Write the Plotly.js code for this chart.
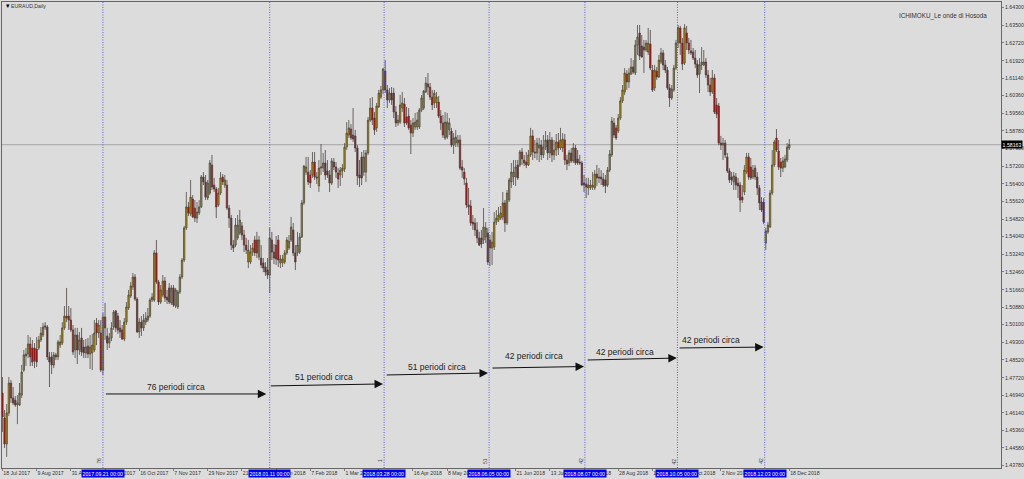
<!DOCTYPE html>
<html>
<head>
<meta charset="utf-8">
<script src="https://cdn.plot.ly/plotly-3.0.1.min.js"></script>
<style>html,body{margin:0;padding:0;background:#dcdcdc;overflow:hidden}</style>
</head>
<body>
<div id="chart" style="width:1024px;height:479px"></div>
<script>
/* -------------------- Data -------------------- */

const opens = [
1.4703,1.4591,1.4475,1.4614,1.4748,1.4681,1.4672,1.4650,1.4650,1.4694,
1.4806,1.4869,1.4878,1.4923,1.4905,1.4905,1.4900,1.4905,1.4941,1.4963,
1.5004,1.4999,1.4865,1.4865,1.4829,1.4874,1.4865,1.4918,1.4927,1.4995,
1.5048,1.5048,1.5030,1.4986,1.4896,1.4963,1.4896,1.4950,1.4909,1.4883,
1.4914,1.4878,1.4883,1.4896,1.5017,1.4972,1.4972,1.4806,1.5044,1.4959,
1.4927,1.4950,1.4999,1.5071,1.5048,1.4995,1.4986,1.4945,1.5021,1.5084,
1.5138,1.5178,1.5223,1.5124,1.4977,1.5021,1.4995,1.5021,1.5030,1.5048,
1.5120,1.5120,1.5331,1.5201,1.5111,1.5142,1.5205,1.5133,1.5174,1.5107,
1.5174,1.5093,1.5089,1.5156,1.5223,1.5299,1.5443,1.5537,1.5505,1.5572,
1.5532,1.5487,1.5510,1.5537,1.5671,1.5649,1.5577,1.5599,1.5725,1.5635,
1.5617,1.5546,1.5599,1.5671,1.5635,1.5635,1.5532,1.5487,1.5366,1.5366,
1.5398,1.5420,1.5452,1.5411,1.5366,1.5290,1.5290,1.5335,1.5389,1.5389,
1.5313,1.5308,1.5286,1.5268,1.5254,1.5232,1.5389,1.5335,1.5366,1.5389,
1.5286,1.5286,1.5290,1.5331,1.5353,1.5389,1.5434,1.5331,1.5331,1.5335,
1.5402,1.5555,1.5693,1.5693,1.5680,1.5680,1.5738,1.5671,1.5631,1.5711,
1.5711,1.5734,1.5698,1.5680,1.5644,1.5738,1.5716,1.5689,1.5680,1.5698,
1.5707,1.5805,1.5859,1.5886,1.5859,1.5855,1.5801,1.5680,1.5761,1.5693,
1.5693,1.5779,1.5926,1.5980,1.5935,1.5891,1.5985,1.6029,1.6061,1.6146,
1.6061,1.6016,1.6047,1.6047,1.5962,1.5913,1.5917,1.5980,1.5998,1.5940,
1.5944,1.5904,1.5868,1.5895,1.5895,1.5895,1.5971,1.5980,1.6052,1.6088,
1.6074,1.6029,1.6003,1.6003,1.6007,1.5944,1.5913,1.5846,1.5850,1.5882,
1.5877,1.5814,1.5823,1.5823,1.5837,1.5716,1.5693,1.5644,1.5546,1.5541,
1.5469,1.5465,1.5434,1.5398,1.5398,1.5389,1.5402,1.5420,1.5389,1.5353,
1.5357,1.5469,1.5478,1.5487,1.5492,1.5555,1.5465,1.5568,1.5649,1.5671,
1.5671,1.5725,1.5725,1.5783,1.5747,1.5738,1.5725,1.5770,1.5855,1.5783,
1.5779,1.5801,1.5814,1.5770,1.5805,1.5837,1.5779,1.5837,1.5770,1.5792,
1.5828,1.5801,1.5801,1.5837,1.5747,1.5734,1.5779,1.5743,1.5801,1.5752,
1.5738,1.5734,1.5644,1.5640,1.5622,1.5622,1.5626,1.5622,1.5684,1.5671,
1.5671,1.5662,1.5658,1.5635,1.5702,1.5770,1.5913,1.5891,1.5877,1.5935,
1.6012,1.6052,1.6132,1.6097,1.6132,1.6164,1.6137,1.6262,1.6316,1.6258,
1.6253,1.6240,1.6231,1.6267,1.6150,1.6070,1.6146,1.6119,1.6186,1.6227,
1.6173,1.6150,1.6070,1.6025,1.6061,1.6159,1.6271,1.6339,1.6271,1.6182,
1.6316,1.6271,1.6236,1.6231,1.6204,1.6177,1.6132,1.6173,1.6173,1.6186,
1.6128,1.6083,1.6052,1.6115,1.5994,1.5989,1.5823,1.5814,1.5823,1.5761,
1.5698,1.5671,1.5649,1.5671,1.5644,1.5635,1.5581,1.5604,1.5693,1.5761,
1.5716,1.5671,1.5711,1.5671,1.5622,1.5559,1.5559,1.5375,1.5425,1.5447,
1.5599,1.5725,1.5846,1.5788,1.5738,1.5711,1.5716,1.5747,1.5801
];
const highs = [
1.4775,1.4627,1.4654,1.4775,1.4762,1.4730,1.4690,1.4694,1.4748,1.4829,
1.4896,1.4905,1.4963,1.4954,1.4941,1.4927,1.4954,1.4959,1.4999,1.5017,
1.5021,1.5008,1.4887,1.4887,1.4887,1.4883,1.4941,1.4963,1.5021,1.5093,
1.5174,1.5093,1.5084,1.5008,1.4995,1.4995,1.4977,1.4995,1.4941,1.4945,
1.4950,1.4963,1.4968,1.5030,1.5039,1.5030,1.5030,1.5062,1.5107,1.4995,
1.4972,1.5021,1.5075,1.5075,1.5062,1.5030,1.5008,1.5039,1.5111,1.5165,
1.5201,1.5241,1.5236,1.5133,1.5039,1.5048,1.5057,1.5066,1.5084,1.5129,
1.5151,1.5344,1.5389,1.5210,1.5187,1.5232,1.5223,1.5165,1.5196,1.5187,
1.5187,1.5174,1.5165,1.5236,1.5308,1.5452,1.5604,1.5559,1.5658,1.5590,
1.5568,1.5559,1.5568,1.5680,1.5693,1.5680,1.5658,1.5747,1.5770,1.5667,
1.5626,1.5622,1.5693,1.5684,1.5680,1.5658,1.5546,1.5501,1.5389,1.5487,
1.5501,1.5523,1.5469,1.5434,1.5398,1.5389,1.5366,1.5375,1.5407,1.5425,
1.5407,1.5366,1.5308,1.5290,1.5308,1.5443,1.5425,1.5371,1.5407,1.5411,
1.5322,1.5322,1.5344,1.5402,1.5411,1.5492,1.5465,1.5366,1.5425,1.5420,
1.5568,1.5725,1.5761,1.5761,1.5702,1.5783,1.5783,1.5693,1.5747,1.5819,
1.5779,1.5792,1.5747,1.5702,1.5756,1.5756,1.5738,1.5711,1.5716,1.5729,
1.5823,1.5917,1.5926,1.5908,1.5980,1.5882,1.5814,1.5747,1.5783,1.5792,
1.5792,1.5940,1.6025,1.6029,1.5962,1.6003,1.6061,1.6079,1.6159,1.6195,
1.6083,1.6070,1.6074,1.6070,1.5989,1.5949,1.6038,1.6052,1.6025,1.5985,
1.5980,1.5926,1.5935,1.5958,1.5962,1.5980,1.6038,1.6061,1.6119,1.6137,
1.6092,1.6061,1.6061,1.6052,1.6034,1.5971,1.5949,1.5962,1.5958,1.5935,
1.5891,1.5868,1.5882,1.5859,1.5859,1.5747,1.5711,1.5667,1.5622,1.5568,
1.5501,1.5487,1.5469,1.5425,1.5434,1.5532,1.5469,1.5443,1.5411,1.5425,
1.5514,1.5523,1.5537,1.5541,1.5604,1.5568,1.5613,1.5667,1.5734,1.5747,
1.5747,1.5747,1.5792,1.5801,1.5770,1.5783,1.5792,1.5891,1.5882,1.5837,
1.5846,1.5846,1.5837,1.5859,1.5877,1.5859,1.5873,1.5850,1.5837,1.5864,
1.5868,1.5891,1.5868,1.5864,1.5770,1.5792,1.5801,1.5823,1.5814,1.5792,
1.5770,1.5743,1.5680,1.5667,1.5667,1.5658,1.5693,1.5702,1.5725,1.5711,
1.5702,1.5689,1.5680,1.5716,1.5792,1.5940,1.5935,1.5904,1.5953,1.6029,
1.6083,1.6159,1.6150,1.6159,1.6204,1.6195,1.6285,1.6352,1.6352,1.6307,
1.6285,1.6285,1.6339,1.6330,1.6173,1.6173,1.6164,1.6218,1.6249,1.6240,
1.6195,1.6164,1.6088,1.6083,1.6173,1.6285,1.6352,1.6348,1.6294,1.6356,
1.6348,1.6294,1.6285,1.6249,1.6240,1.6195,1.6204,1.6253,1.6240,1.6204,
1.6150,1.6115,1.6150,1.6132,1.6025,1.6003,1.5855,1.5846,1.5837,1.5779,
1.5711,1.5693,1.5693,1.5689,1.5667,1.5649,1.5635,1.5725,1.5779,1.5779,
1.5756,1.5725,1.5725,1.5693,1.5635,1.5581,1.5577,1.5443,1.5469,1.5613,
1.5792,1.5837,1.5886,1.5837,1.5756,1.5761,1.5770,1.5823,1.5841
];
const lows = [
1.4529,1.4457,1.4417,1.4600,1.4659,1.4650,1.4641,1.4564,1.4645,1.4681,
1.4797,1.4824,1.4860,1.4824,1.4824,1.4815,1.4820,1.4896,1.4932,1.4954,
1.4986,1.4851,1.4730,1.4788,1.4815,1.4851,1.4851,1.4905,1.4918,1.4986,
1.5021,1.4986,1.4977,1.4874,1.4860,1.4833,1.4874,1.4869,1.4860,1.4860,
1.4860,1.4811,1.4806,1.4887,1.4918,1.4950,1.4797,1.4784,1.4941,1.4896,
1.4905,1.4936,1.4986,1.4977,1.4968,1.4950,1.4941,1.4936,1.5008,1.5075,
1.5129,1.5165,1.5116,1.4972,1.4950,1.4959,1.4981,1.5008,1.5021,1.5039,
1.5111,1.5111,1.5192,1.5098,1.5102,1.5133,1.5111,1.5102,1.5102,1.5098,
1.5089,1.5084,1.5080,1.5147,1.5214,1.5290,1.5434,1.5496,1.5496,1.5487,
1.5469,1.5465,1.5501,1.5532,1.5635,1.5568,1.5568,1.5590,1.5613,1.5604,
1.5487,1.5537,1.5590,1.5635,1.5622,1.5523,1.5443,1.5344,1.5335,1.5357,
1.5389,1.5411,1.5389,1.5335,1.5326,1.5263,1.5281,1.5317,1.5317,1.5308,
1.5299,1.5263,1.5245,1.5228,1.5214,1.5151,1.5299,1.5281,1.5277,1.5268,
1.5263,1.5268,1.5281,1.5322,1.5344,1.5380,1.5317,1.5254,1.5317,1.5326,
1.5398,1.5546,1.5680,1.5635,1.5622,1.5667,1.5658,1.5640,1.5604,1.5680,
1.5693,1.5658,1.5667,1.5604,1.5635,1.5702,1.5667,1.5622,1.5631,1.5667,
1.5693,1.5792,1.5846,1.5837,1.5828,1.5783,1.5635,1.5626,1.5635,1.5676,
1.5649,1.5770,1.5917,1.5904,1.5859,1.5873,1.5980,1.6020,1.6043,1.6047,
1.5980,1.6003,1.5994,1.5935,1.5895,1.5900,1.5908,1.5962,1.5895,1.5904,
1.5882,1.5774,1.5850,1.5882,1.5882,1.5886,1.5962,1.5971,1.6047,1.6038,
1.6016,1.5971,1.5980,1.5980,1.5935,1.5882,1.5846,1.5837,1.5841,1.5859,
1.5805,1.5774,1.5805,1.5805,1.5702,1.5667,1.5635,1.5532,1.5501,1.5452,
1.5434,1.5407,1.5375,1.5362,1.5353,1.5371,1.5375,1.5277,1.5272,1.5277,
1.5344,1.5456,1.5469,1.5478,1.5478,1.5425,1.5456,1.5559,1.5622,1.5635,
1.5631,1.5658,1.5716,1.5725,1.5720,1.5711,1.5720,1.5761,1.5747,1.5756,
1.5747,1.5738,1.5747,1.5756,1.5792,1.5747,1.5756,1.5738,1.5747,1.5765,
1.5770,1.5792,1.5783,1.5725,1.5702,1.5720,1.5734,1.5734,1.5725,1.5725,
1.5725,1.5631,1.5604,1.5577,1.5590,1.5613,1.5613,1.5613,1.5631,1.5644,
1.5635,1.5626,1.5599,1.5626,1.5693,1.5761,1.5846,1.5837,1.5868,1.5926,
1.6003,1.6038,1.6061,1.6070,1.6128,1.6132,1.6128,1.6218,1.6195,1.6204,
1.6137,1.6231,1.6218,1.6150,1.6052,1.6056,1.6106,1.6115,1.6177,1.6150,
1.6137,1.6061,1.5985,1.6016,1.6052,1.6150,1.6249,1.6218,1.6150,1.6173,
1.6240,1.6222,1.6218,1.6195,1.6159,1.6115,1.6047,1.6150,1.6168,1.6115,
1.6052,1.6034,1.6043,1.5953,1.5935,1.5814,1.5792,1.5747,1.5756,1.5689,
1.5644,1.5635,1.5613,1.5613,1.5577,1.5514,1.5555,1.5590,1.5684,1.5658,
1.5658,1.5662,1.5658,1.5590,1.5523,1.5514,1.5460,1.5344,1.5416,1.5443,
1.5590,1.5716,1.5783,1.5702,1.5671,1.5693,1.5711,1.5738,1.5792
];
const closes = [
1.4596,1.4475,1.4614,1.4748,1.4681,1.4659,1.4650,1.4659,1.4703,1.4797,
1.4874,1.4878,1.4923,1.4865,1.4842,1.4847,1.4842,1.4941,1.4972,1.4999,
1.4999,1.4865,1.4842,1.4829,1.4874,1.4865,1.4932,1.4932,1.4995,1.5048,
1.5039,1.5030,1.4986,1.4887,1.4963,1.4896,1.4941,1.4887,1.4883,1.4909,
1.4878,1.4909,1.4918,1.4972,1.4972,1.5008,1.4806,1.5044,1.4995,1.4927,
1.4950,1.4995,1.5066,1.4995,1.4986,1.4977,1.4945,1.5021,1.5089,1.5142,
1.5183,1.5223,1.5124,1.4977,1.5021,1.4995,1.5030,1.5039,1.5048,1.5120,
1.5133,1.5331,1.5201,1.5111,1.5165,1.5205,1.5129,1.5120,1.5111,1.5174,
1.5098,1.5165,1.5156,1.5223,1.5299,1.5443,1.5537,1.5510,1.5581,1.5492,
1.5487,1.5514,1.5537,1.5671,1.5649,1.5581,1.5644,1.5734,1.5626,1.5617,
1.5537,1.5599,1.5667,1.5649,1.5658,1.5532,1.5487,1.5366,1.5353,1.5456,
1.5456,1.5478,1.5411,1.5366,1.5344,1.5344,1.5335,1.5353,1.5331,1.5331,
1.5389,1.5277,1.5263,1.5245,1.5232,1.5398,1.5335,1.5308,1.5304,1.5299,
1.5304,1.5304,1.5331,1.5389,1.5384,1.5447,1.5331,1.5290,1.5366,1.5402,
1.5555,1.5720,1.5716,1.5649,1.5644,1.5738,1.5671,1.5667,1.5711,1.5716,
1.5734,1.5680,1.5680,1.5644,1.5743,1.5716,1.5693,1.5662,1.5702,1.5711,
1.5805,1.5868,1.5891,1.5846,1.5841,1.5801,1.5676,1.5667,1.5667,1.5761,
1.5779,1.5926,1.5980,1.5926,1.5882,1.5989,1.6047,1.6061,1.6155,1.6061,
1.6016,1.6047,1.6016,1.5962,1.5913,1.5926,1.5994,1.6003,1.5913,1.5913,
1.5891,1.5868,1.5913,1.5917,1.5926,1.5971,1.6025,1.6056,1.6092,1.6074,
1.6029,1.5994,1.6047,1.6029,1.5944,1.5913,1.5859,1.5917,1.5917,1.5913,
1.5814,1.5846,1.5850,1.5837,1.5711,1.5702,1.5662,1.5546,1.5537,1.5465,
1.5460,1.5434,1.5398,1.5366,1.5371,1.5447,1.5443,1.5290,1.5353,1.5380,
1.5469,1.5487,1.5501,1.5510,1.5555,1.5465,1.5599,1.5658,1.5693,1.5693,
1.5716,1.5667,1.5783,1.5752,1.5734,1.5725,1.5770,1.5855,1.5783,1.5779,
1.5823,1.5814,1.5770,1.5805,1.5837,1.5779,1.5837,1.5770,1.5792,1.5828,
1.5801,1.5837,1.5841,1.5747,1.5729,1.5779,1.5743,1.5801,1.5734,1.5734,
1.5734,1.5635,1.5635,1.5626,1.5635,1.5635,1.5635,1.5684,1.5667,1.5667,
1.5662,1.5635,1.5631,1.5702,1.5774,1.5922,1.5859,1.5846,1.5935,1.6012,
1.6061,1.6137,1.6097,1.6137,1.6164,1.6141,1.6262,1.6298,1.6213,1.6209,
1.6240,1.6271,1.6271,1.6159,1.6061,1.6150,1.6119,1.6195,1.6227,1.6173,
1.6150,1.6070,1.6025,1.6065,1.6159,1.6271,1.6339,1.6271,1.6177,1.6339,
1.6271,1.6240,1.6227,1.6204,1.6177,1.6128,1.6173,1.6186,1.6186,1.6128,
1.6083,1.6052,1.6115,1.5962,1.5953,1.5823,1.5814,1.5823,1.5770,1.5698,
1.5658,1.5658,1.5676,1.5635,1.5631,1.5568,1.5568,1.5702,1.5761,1.5671,
1.5667,1.5702,1.5671,1.5622,1.5555,1.5523,1.5469,1.5429,1.5456,1.5599,
1.5725,1.5828,1.5792,1.5716,1.5711,1.5743,1.5752,1.5805,1.58163
];

// every 16th bar carries a date label; labels wholly under a blue box stay empty
const dateTicks = [0,16,32,48,64,80,96,112,128,144,160,176,192,208,224,240,256,272,288,304,320,336,352,368];
const dateLabels = ["18 Jul 2017","9 Aug 2017","31 Aug 2017","22 Sep 2017","16 Oct 2017","7 Nov 2017",
  "29 Nov 2017","21 Dec 2017","16 Jan 2018","7 Feb 2018","1 Mar 2018","","16 Apr 2018",
  "8 May 2018","","21 Jun 2018","13 Jul 2018","6 Aug 2018","28 Aug 2018","19 Sep 2018",
  "11 Oct 2018","2 Nov 2018","","18 Dec 2018"];

const priceTicks = [1.643,1.635,1.6272,1.6192,1.6114,1.6036,1.5956,1.5878,1.5798,1.572,1.564,1.5562,1.5482,
  1.5404,1.5324,1.5246,1.5166,1.5088,1.501,1.493,1.4852,1.4772,1.4694,1.4614,1.4536,1.4458,1.4378];

const cycleBars = [47,125,178.5,227.6,272.4,315.7,356.5];
const cycleDates = ["2017.09.21 00:00","2018.01.11 00:00","2018.03.28 00:00","2018.06.05 00:00",
  "2018.08.07 00:00","2018.10.05 00:00","2018.12.03 00:00"];
const cycleCounts = ["76","","1","51","42","42","42"];

const arrowTexts = ["76 periodi circa","51 periodi circa","51 periodi circa","42 periodi circa","42 periodi circa","42 periodi circa"];
const arrowTailBar = [47.7,124.8,179,228.5,273,316];
const arrowHeadBar = [123.4,178,227.1,272,315.4,356];
const arrowTailPrice = [1.4699,1.4735,1.4784,1.4815,1.4851,1.4905];
const arrowHeadPrice = [1.4699,1.4744,1.4793,1.4822,1.4860,1.4909];
const textBar = [81.3,150.5,203.3,248.6,291,331.3];
const textPrice = [1.4731,1.4775,1.4820,1.4867,1.4887,1.4939];

const lastPrice = 1.58163;

/* -------------------- Chart -------------------- */

const tickFont = { family: "Liberation Sans", size: 5.2, color: "#333" };

const trace = {
  type: "candlestick",
  x: opens.map((_, i) => i),
  open: opens,
  high: highs,
  low: lows,
  close: closes,
  whiskerwidth: 0,
  increasing: { line: { color: "#4c4a40", width: 0.8 }, fillcolor: "#b89400" },
  decreasing: { line: { color: "#4c4040", width: 0.8 }, fillcolor: "#c80000" },
  hoverinfo: "skip",
};

const shapes = [{
  type: "line", xref: "paper", x0: 0, x1: 1, yref: "y", y0: lastPrice, y1: lastPrice,
  line: { color: "#b0b0b0", width: 1.2 }, layer: "below",
}];
cycleBars.forEach((bar) => {
  shapes.push({
    type: "line", xref: "x", x0: bar, x1: bar, yref: "paper", y0: 0, y1: 1,
    line: { color: "#3f3ff5", width: 0.8, dash: "1px,1.5px" },
  });
});

const annotations = [];

cycleBars.forEach((bar, i) => {
  annotations.push({
    xref: "x", x: bar, yref: "paper", y: -0.0115, yanchor: "middle", showarrow: false,
    text: cycleDates[i], bgcolor: "#0000ee", borderpad: 0.6,
    font: { family: "Liberation Sans", size: 5.2, color: "#fff" },
  });
  if (cycleCounts[i]) {
    annotations.push({
      xref: "x", x: bar, xshift: -4, yref: "y", y: 1.4399, showarrow: false, textangle: -90,
      text: cycleCounts[i], font: { family: "Liberation Sans", size: 5, color: "#444" },
    });
  }
});

arrowTexts.forEach((label, i) => {
  annotations.push({
    xref: "x", yref: "y", axref: "x", ayref: "y",
    x: arrowHeadBar[i], y: arrowHeadPrice[i], ax: arrowTailBar[i], ay: arrowTailPrice[i],
    text: "", showarrow: true, arrowhead: 2, arrowsize: 1.7, arrowwidth: 1, arrowcolor: "#111",
  });
  annotations.push({
    xref: "x", yref: "y", x: textBar[i], y: textPrice[i], showarrow: false,
    text: label, font: { family: "Liberation Sans", size: 8.5, color: "#222" },
  });
});

annotations.push({
  xref: "paper", x: 1, xanchor: "left", yref: "y", y: lastPrice, showarrow: false,
  text: "1.58163", bgcolor: "#000", borderpad: 0.6,
  font: { family: "Liberation Sans", size: 5.2, color: "#fff" },
});
annotations.push({
  xref: "paper", x: 0, xshift: 2, xanchor: "left", yref: "paper", y: 0.9915, yanchor: "middle", showarrow: false,
  text: "▾", font: { family: "Liberation Sans", size: 7, color: "#000" },
});
annotations.push({
  xref: "paper", x: 0, xshift: 7, xanchor: "left", yref: "paper", y: 0.9905, yanchor: "middle", showarrow: false,
  text: "EURAUD,Daily", font: { family: "Liberation Sans", size: 5.2, color: "#333" },
});
annotations.push({
  xref: "paper", x: 0.8955, xanchor: "left", yref: "paper", y: 0.9695, yanchor: "middle", showarrow: false,
  text: "ICHIMOKU_Le onde di Hosoda", font: { family: "Liberation Sans", size: 6.3, color: "#333" },
});

const layout = {
  width: 1024,
  height: 479,
  autosize: false,
  showlegend: false,
  margin: { l: 2, r: 22.5, t: 2, b: 11 },
  paper_bgcolor: "#dcdcdc",
  plot_bgcolor: "#dcdcdc",
  xaxis: {
    type: "linear",
    range: [-0.2, 467],
    rangeslider: { visible: false },
    showgrid: false,
    zeroline: false,
    showline: true,
    mirror: true,
    linecolor: "#666",
    linewidth: 1,
    ticks: "outside",
    ticklen: 2,
    tickwidth: 0.7,
    tickcolor: "#555",
    tickmode: "array",
    tickvals: dateTicks,
    ticktext: dateLabels,
    ticklabelposition: "outside right",
    ticklabelshift: -1.5,
    tickangle: 0,
    tickfont: tickFont,
  },
  yaxis: {
    side: "right",
    range: [1.6464 - 0.000448 * 468, 1.6464 - 0.000448 * 2],
    showgrid: false,
    zeroline: false,
    showline: true,
    mirror: true,
    linecolor: "#666",
    linewidth: 1,
    ticks: "outside",
    ticklen: 2,
    tickwidth: 0.7,
    tickcolor: "#555",
    tickmode: "array",
    tickvals: priceTicks,
    ticktext: priceTicks.map((p) => p.toFixed(5)),
    tickfont: tickFont,
  },
  boxgap: 0.1,
  shapes: shapes,
  annotations: annotations,
};

Plotly.newPlot("chart", [trace], layout, { displayModeBar: false, staticPlot: true });
</script>
</body>
</html>
